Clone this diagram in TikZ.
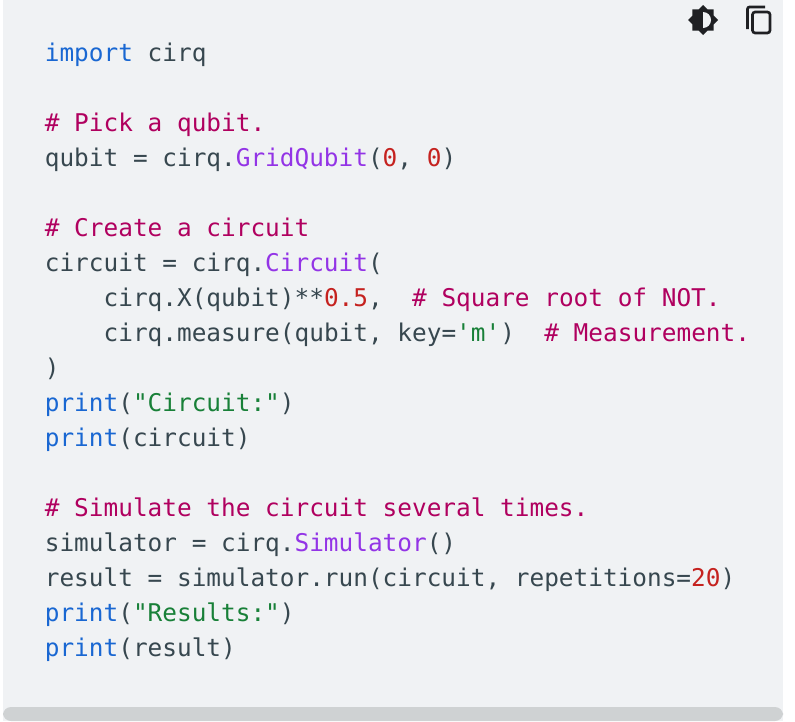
\documentclass[tikz,border=0pt]{standalone}
\usepackage{fontspec}
\setmonofont{DejaVu Sans Mono}
\definecolor{panelbg}{HTML}{F0F2F4}
\definecolor{barcol}{HTML}{CFD2D3}
\definecolor{plain}{HTML}{37474F}
\definecolor{kwcol}{HTML}{1967D2}
\definecolor{cmcol}{HTML}{B0005F}
\definecolor{strcol}{HTML}{188038}
\definecolor{numcol}{HTML}{C5221F}
\definecolor{fncol}{HTML}{9334E6}
\definecolor{iconcol}{HTML}{1F2023}
\newcommand{\kw}[1]{\textcolor{kwcol}{#1}}
\newcommand{\cm}[1]{\textcolor{cmcol}{#1}}
\newcommand{\str}[1]{\textcolor{strcol}{#1}}
\newcommand{\num}[1]{\textcolor{numcol}{#1}}
\newcommand{\fn}[1]{\textcolor{fncol}{#1}}
\tikzset{
  codeline/.style={anchor=base west, inner sep=0pt, text=plain,
    font=\ttfamily\fontsize{18.3pt}{22pt}\selectfont},
}
\begin{document}
\begin{tikzpicture}[x=0.75pt, y=-0.75pt]
   \useasboundingbox (0,0) rectangle (795,721);
   \fill[panelbg] (3,0) rectangle (783,721);
   \fill[barcol, rounded corners=6pt] (3,707) rectangle (783,721);
   % code lines
   \node[codeline] (l1) at (44.6,61) {\kw{import} cirq};
   \node[codeline] (l3) at (44.6,131) {\cm{\# Pick a qubit.}};
   \node[codeline] (l4) at (44.6,166) {qubit = cirq.\fn{GridQubit}(\num{0}, \num{0})};
   \node[codeline] (l6) at (44.6,236) {\cm{\# Create a circuit}};
   \node[codeline] (l7) at (44.6,271) {circuit = cirq.\fn{Circuit}(};
   \node[codeline] (l8) at (103.4,306) {cirq.X(qubit)**\num{0.5},~~\cm{\# Square root of NOT.}};
   \node[codeline] (l9) at (103.4,341) {cirq.measure(qubit, key=\str{'m'})~~\cm{\# Measurement.}};
   \node[codeline] (l10) at (44.6,376) {)};
   \node[codeline] (l11) at (44.6,411) {\kw{print}(\str{"Circuit:"})};
   \node[codeline] (l12) at (44.6,446) {\kw{print}(circuit)};
   \node[codeline] (l14) at (44.6,516) {\cm{\# Simulate the circuit several times.}};
   \node[codeline] (l15) at (44.6,551) {simulator = cirq.\fn{Simulator}()};
   \node[codeline] (l16) at (44.6,586) {result = simulator.run(circuit, repetitions=\num{20})};
   \node[codeline] (l17) at (44.6,621) {\kw{print}(\str{"Results:"})};
   \node[codeline] (l18) at (44.6,656) {\kw{print}(result)};
   % brightness icon
   \begin{scope}[shift={(703,20)}]
     \fill[iconcol] (15,0) -- (10.6,4.4) -- (10.6,10.6) -- (4.4,10.6) -- (0,15) -- (-4.4,10.6)
       -- (-10.6,10.6) -- (-10.6,4.4) -- (-15,0) -- (-10.6,-4.4) -- (-10.6,-10.6) -- (-4.4,-10.6)
       -- (0,-15) -- (4.4,-10.6) -- (10.6,-10.6) -- (10.6,-4.4) -- cycle;
     \fill[panelbg] (0,8) arc[start angle=90, end angle=-90, radius=8] -- cycle;
   \end{scope}
   % copy icon
   \draw[iconcol, line width=2pt, rounded corners=1.5pt] (747.5,29) -- (747.5,7) -- (765,7);
   \draw[iconcol, line width=2pt, rounded corners=2pt] (752.5,12) rectangle (770,33);
\end{tikzpicture}
\end{document}
